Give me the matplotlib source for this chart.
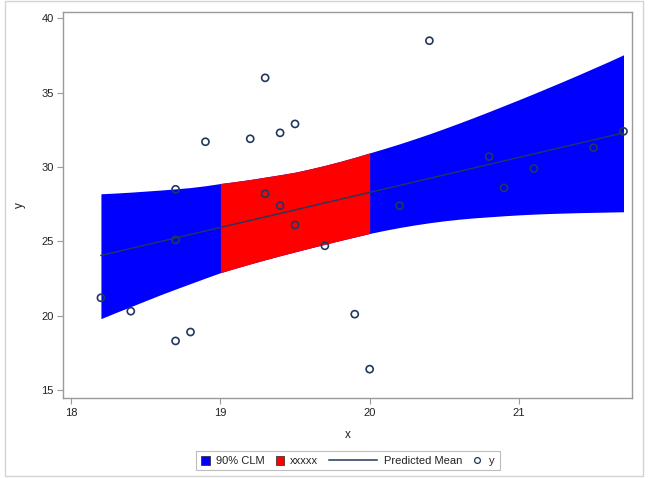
import matplotlib
matplotlib.use("Agg")
import matplotlib.pyplot as plt
import matplotlib.patches as mpatches
from matplotlib.lines import Line2D
from matplotlib.offsetbox import AnchoredOffsetbox, HPacker, DrawingArea, TextArea

# observed points
x_obs = [18.2, 18.4, 18.7, 18.8, 18.7, 18.7, 18.9, 19.2, 19.3, 19.4, 19.5, 19.3,
         19.4, 19.5, 19.7, 19.9, 20.0, 20.4, 20.2, 20.8, 20.9, 21.1, 21.5, 21.7]
y_obs = [21.2, 20.3, 18.3, 18.9, 28.5, 25.1, 31.7, 31.9, 36.0, 32.3, 32.9, 28.2,
         27.4, 26.1, 24.7, 20.1, 16.4, 38.5, 27.4, 30.7, 28.6, 29.9, 31.3, 32.4]

# confidence band (every 0.1 in x)
band_x = [18.2, 18.3, 18.4, 18.5, 18.6, 18.7, 18.8, 18.9, 19.0, 19.1, 19.2, 19.3,
          19.4, 19.5, 19.6, 19.7, 19.8, 19.9, 20.0, 20.1, 20.2, 20.3, 20.4, 20.5,
          20.6, 20.7, 20.8, 20.9, 21.0, 21.1, 21.2, 21.3, 21.4, 21.5, 21.6, 21.7]
band_hi = [28.20, 28.25, 28.31, 28.38, 28.45, 28.53, 28.62, 28.74, 28.89, 29.02,
           29.16, 29.32, 29.48, 29.65, 29.87, 30.11, 30.37, 30.65, 30.95, 31.25,
           31.56, 31.89, 32.23, 32.59, 32.96, 33.34, 33.73, 34.13, 34.53, 34.94,
           35.36, 35.78, 36.21, 36.65, 37.09, 37.55]
band_lo = [19.80, 20.21, 20.61, 21.01, 21.41, 21.79, 22.16, 22.53, 22.89, 23.19,
           23.48, 23.76, 24.03, 24.29, 24.55, 24.80, 25.05, 25.29, 25.53, 25.74,
           25.93, 26.10, 26.25, 26.38, 26.49, 26.58, 26.65, 26.72, 26.78, 26.83,
           26.87, 26.90, 26.93, 26.95, 26.97, 26.99]

# predicted mean (straight line)
fit_x = [18.2, 21.7]
fit_y = [24.05, 32.3]

# highlighted part of the band
hl_from, hl_to = 19.0, 20.0

x_ticks = [18, 19, 20, 21]
y_ticks = [15, 20, 25, 30, 35, 40]

BLUE = "#0000ff"
RED = "#ff0000"
NAVY = "#22375e"
GRAY = "#9a9a9a"

plt.rcParams["font.family"] = ["Liberation Sans", "DejaVu Sans"]

fig = plt.figure(figsize=(6.54, 4.78), dpi=100)
ax = fig.add_axes([63.3 / 654, 1 - 398.3 / 478, (632.3 - 63.3) / 654, (398.3 - 11.7) / 478])

ax.fill_between(band_x, band_lo, band_hi, color=BLUE, linewidth=0, zorder=1)
sel = [i for i, v in enumerate(band_x) if hl_from - 1e-9 <= v <= hl_to + 1e-9]
ax.fill_between([band_x[i] for i in sel], [band_lo[i] for i in sel],
                [band_hi[i] for i in sel], color=RED, linewidth=0, zorder=2)
ax.plot(fit_x, fit_y, color=NAVY, linewidth=1.0, zorder=3)
ax.scatter(x_obs, y_obs, s=26, facecolors="none", edgecolors=NAVY,
           linewidths=1.2, zorder=4)

ax.set_xlim(17.948, 21.759)
ax.set_ylim(14.44, 40.45)
ax.set_xticks(x_ticks)
ax.set_yticks(y_ticks)
ax.tick_params(direction="out", length=4, width=0.8, color=GRAY,
               labelsize=8, labelcolor="#222222", pad=3)
for sp in ax.spines.values():
    sp.set_color(GRAY)
    sp.set_linewidth(1.0)

ax.set_xlabel("x", fontsize=8.5, color="#222222")
ax.set_ylabel("y", fontsize=8.5, color="#222222")
ax.xaxis.set_label_coords(0.5, -0.079)
ax.yaxis.set_label_coords(-0.0656, 0.5)


# legend built by hand so the squares stay small and the line long (sizes in pt)
def swatch(color):
    da = DrawingArea(6, 6, 0, 0)
    da.add_artist(mpatches.Rectangle((0, 0), 6, 6, facecolor=color,
                                     edgecolor="#222222", linewidth=0.5))
    return da


def line_key():
    da = DrawingArea(34, 6, 0, 0)
    da.add_artist(Line2D([0, 34], [3, 3], color=NAVY, linewidth=1.1))
    return da


def circle_key():
    da = DrawingArea(5, 6, 0, 0)
    da.add_artist(Line2D([2.5], [3], linestyle="none", marker="o", markersize=4.2,
                         markerfacecolor="none", markeredgecolor=NAVY,
                         markeredgewidth=0.9))
    return da


def label(s):
    return TextArea(s, textprops=dict(fontsize=8, color="#222222"))


keys = [swatch(BLUE), swatch(RED), line_key(), circle_key()]
names = ["90% CLM", "xxxxx", "Predicted Mean", "y"]
gaps = [4.5, 4.5, 5, 6.5]
items = [HPacker(children=[k, label(n)], sep=g, align="center")
         for k, n, g in zip(keys, names, gaps)]
row = HPacker(children=items, sep=8, align="center")
box = AnchoredOffsetbox(loc="center", child=row, pad=0.35, borderpad=0,
                        frameon=True, bbox_to_anchor=(348 / 654, 1 - 460.5 / 478),
                        bbox_transform=fig.transFigure)
box.patch.set_edgecolor("#bdbdbd")
box.patch.set_linewidth(0.8)
box.patch.set_boxstyle("square", pad=0)
fig.add_artist(box)

# outer graph border
fig.patches.append(mpatches.Rectangle((5 / 654, 2 / 478), 638 / 654, 475 / 478,
                                      transform=fig.transFigure, fill=False,
                                      edgecolor="#d4d4d4", linewidth=1.0))

fig.savefig("out.png", dpi=100)
